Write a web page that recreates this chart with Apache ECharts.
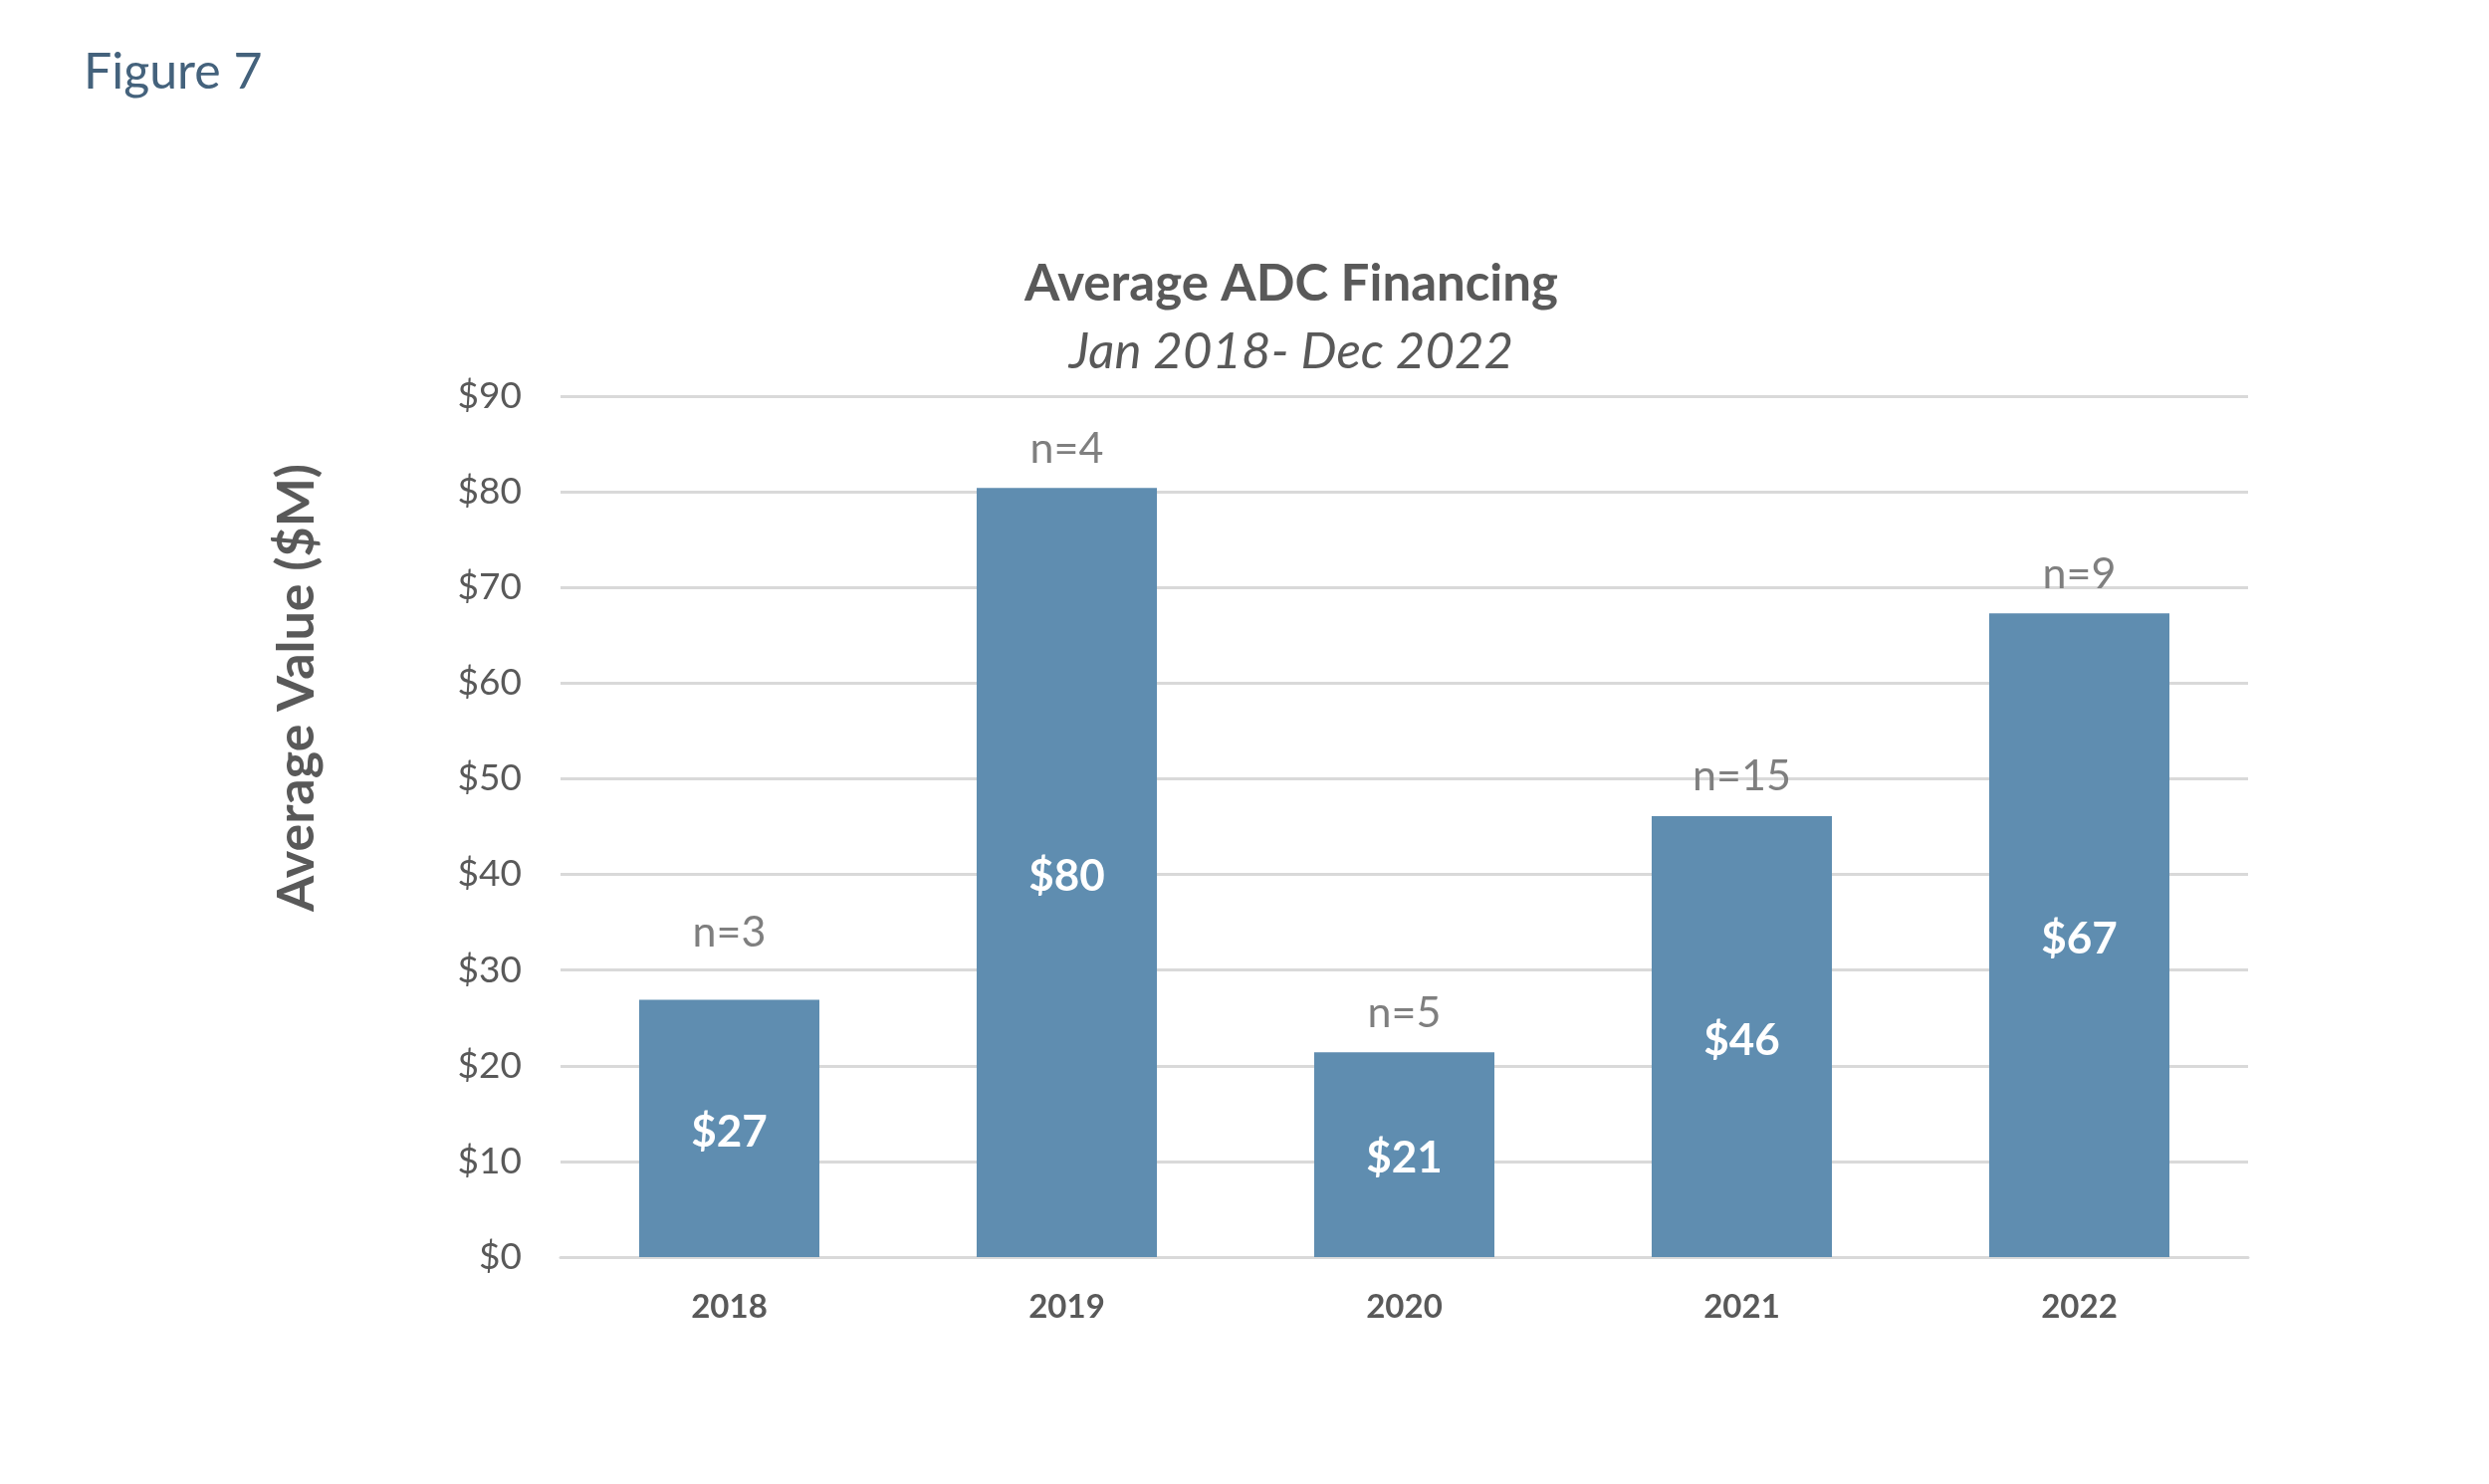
<!DOCTYPE html>
<html>
<head>
<meta charset="utf-8">
<script src="https://cdn.jsdelivr.net/npm/echarts@6/dist/echarts.min.js"></script>
<style>
html,body{margin:0;padding:0;background:#fff;}
#chart{width:2500px;height:1491px;}
</style>
</head>
<body>
<div id="chart"></div>
<script>
const categories = ['2018', '2019', '2020', '2021', '2022'];
const avgValues = [26.9, 80.4, 21.4, 46.1, 67.3];
const valueLabels = ['$27', '$80', '$21', '$46', '$67'];
const counts = [3, 4, 5, 15, 9];
const yTicks = [0, 10, 20, 30, 40, 50, 60, 70, 80, 90];

const FONT = 'Lato';
const chart = echarts.init(document.getElementById('chart'), null, {renderer: 'canvas'});

chart.setOption({
  backgroundColor: '#ffffff',
  animation: false,
  title: [
    {
      text: 'Figure 7',
      left: 79,
      top: 43,
      textStyle: {fontFamily: FONT, fontSize: 50, fontWeight: 'normal', color: '#44627c'}
    },
    {
      text: 'Average ADC Financing',
      subtext: 'Jan 2018- Dec 2022',
      left: 1292,
      textAlign: 'center',
      top: 255,
      itemGap: 17,
      textStyle: {fontFamily: FONT, fontSize: 51, fontWeight: 'bold', color: '#595959'},
      subtextStyle: {fontFamily: FONT, fontSize: 51, fontStyle: 'italic', color: '#595959'}
    }
  ],
  graphic: [
    {
      type: 'text',
      x: 298,
      y: 691,
      rotation: Math.PI / 2,
      style: {
        text: 'Average Value ($M)',
        fontFamily: FONT,
        fontSize: 52,
        fontWeight: 'bold',
        fill: '#595959',
        textAlign: 'center',
        textVerticalAlign: 'middle'
      }
    }
  ],
  grid: {left: 563, right: 242, top: 398, bottom: 228, containLabel: false},
  xAxis: {
    type: 'category',
    data: categories,
    axisTick: {show: false},
    axisLine: {show: true, lineStyle: {color: '#d9d9d9', width: 3}},
    axisLabel: {fontFamily: FONT, fontSize: 33, fontWeight: 'bold', color: '#595959', margin: 34}
  },
  yAxis: {
    type: 'value',
    min: 0,
    max: 90,
    interval: 10,
    axisLine: {show: false},
    axisTick: {show: false},
    splitLine: {show: true, lineStyle: {color: '#d9d9d9', width: 3}},
    axisLabel: {
      fontFamily: FONT, fontSize: 37, color: '#595959', margin: 39,
      formatter: function (v) { return yTicks.indexOf(v) >= 0 ? '$' + v : ''; }
    }
  },
  series: [
    {
      type: 'bar',
      data: avgValues,
      barWidth: '53.4%',
      itemStyle: {color: '#5f8db0'},
      label: {
        show: true,
        position: 'inside',
        offset: [0, 4],
        fontFamily: FONT,
        fontSize: 44,
        fontWeight: 'bold',
        color: '#ffffff',
        formatter: function (p) { return valueLabels[p.dataIndex]; }
      },
      z: 2
    },
    {
      type: 'bar',
      data: avgValues.map(function (v, i) {
        return i === 0 ? {value: v, label: {distance: 46}} : v;
      }),
      barWidth: '53.4%',
      barGap: '-100%',
      silent: true,
      itemStyle: {color: 'rgba(0,0,0,0)'},
      label: {
        show: true,
        position: 'top',
        distance: 18,
        fontFamily: FONT,
        fontSize: 43,
        color: '#7f7f7f',
        formatter: function (p) { return 'n=' + counts[p.dataIndex]; }
      },
      z: 3
    }
  ]
});
</script>
</body>
</html>
